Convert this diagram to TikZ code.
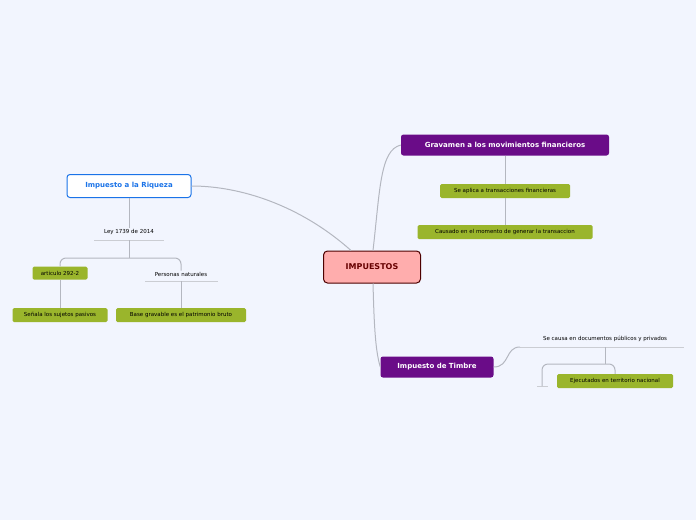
\documentclass[tikz,border=0pt]{standalone}
\usepackage{fontspec}
\setmainfont{DejaVu Sans}
\definecolor{bg}{HTML}{F2F5FE}
\definecolor{purp}{HTML}{6A0C88}
\definecolor{grn}{HTML}{9AB52C}
\definecolor{lnk}{HTML}{B4B7C0}
\definecolor{ublue}{HTML}{1A73E8}
\tikzset{
 leaf/.style={fill=grn,rounded corners=1.5pt,font=\fontsize{5.5}{6}\selectfont,inner sep=0pt,text=black},
 mainb/.style={fill=purp,rounded corners=2.5pt,text=white,font=\bfseries\fontsize{7}{8}\selectfont,inner sep=0pt},
 plain/.style={font=\fontsize{5.5}{6}\selectfont,inner sep=1pt},
 con/.style={draw=lnk,line width=1pt},
 ul/.style={draw=lnk!70,line width=1pt}
}
\begin{document}
\begin{tikzpicture}[x=1pt,y=-1pt]
\fill[bg] (0,0) rectangle (696,520);
\useasboundingbox (0,0) rectangle (696,520);
% nodes
\node[draw=black!70!red,line width=1pt,fill=red!20!pink!80,rounded corners=4pt,minimum width=97pt,minimum height=32pt,font=\bfseries\fontsize{8}{9}\selectfont,text=black!60!red] (root) at (372,267) {IMPUESTOS};
\node[mainb,minimum width=208pt,minimum height=21pt] (grav) at (505,145) {Gravamen a los movimientos financieros};
\node[leaf,minimum width=130pt,minimum height=14pt] (apl) at (505,191) {Se aplica a transacciones financieras};
\node[leaf,minimum width=175pt,minimum height=14pt] (cau) at (505,232) {Causado en el momento de generar la transaccion};
\node[mainb,minimum width=113pt,minimum height=21pt] (tim) at (437,367) {Impuesto de Timbre};
\node[plain] (doc) at (605,339) {Se causa en documentos públicos y privados};
\coordinate (docL) at (520,347); \coordinate (docR) at (684,347);
\node[leaf,minimum width=116pt,minimum height=14pt] (eje) at (615,381) {Ejecutados en territorio nacional};
\coordinate (e1) at (537,386); \coordinate (e2) at (548,386);
\node[draw=ublue,line width=1pt,fill=white,rounded corners=3pt,minimum width=124pt,minimum height=23pt,text=ublue,font=\bfseries\fontsize{7}{8}\selectfont,inner sep=0pt] (riq) at (129,186) {Impuesto a la Riqueza};
\node[plain] (ley) at (129,232) {Ley 1739 de 2014};
\coordinate (leyL) at (94,240); \coordinate (leyR) at (164,240);
\node[leaf,minimum width=55pt,minimum height=13pt] (art) at (60,273) {articulo 292-2};
\node[plain] (per) at (181,274) {Personas naturales};
\coordinate (perL) at (145,281); \coordinate (perR) at (218,281);
\node[leaf,minimum width=95pt,minimum height=14pt] (sen) at (60,315) {Señala los sujetos pasivos};
\node[leaf,minimum width=130pt,minimum height=14pt] (bas) at (181,315) {Base gravable es el patrimonio bruto};
% underlines
\draw[ul] (leyL) -- (leyR);
\draw[ul] (perL) -- (perR);
\draw[ul] (docL) -- (docR);
\draw[ul] (e1) -- (e2);
% connectors
\draw[con] (root.north west) ++(28,0) .. controls (300,205) and (240,186) .. (riq.east);
\draw[con] ([xshift=1pt]root.north) .. controls (380,190) and (380,150) .. (grav.west);
\draw[con] ([xshift=1pt]root.south) .. controls (374,320) and (375,350) .. (tim.west);
\draw[con] (tim.east) .. controls (510,367) and (505,347) .. (docL);
\draw[con] (grav.south) -- (apl.north);
\draw[con] (apl.south) -- (cau.north);
\draw[con] (riq.south) -- (ley.north);
\draw[con] (129,240) -- (129,258);
\draw[con,rounded corners=6pt] (art.north) -- (60,258) -- (181,258) -- (per.north);
\draw[con] (art.south) -- (sen.north);
\draw[con] (perL -| per) -- (bas.north);
\draw[con] (605,347) -- (605,364);
\draw[con,rounded corners=6pt] (542,386) -- (542,364) -- (615,364) -- (eje.north);
\end{tikzpicture}
\end{document}
